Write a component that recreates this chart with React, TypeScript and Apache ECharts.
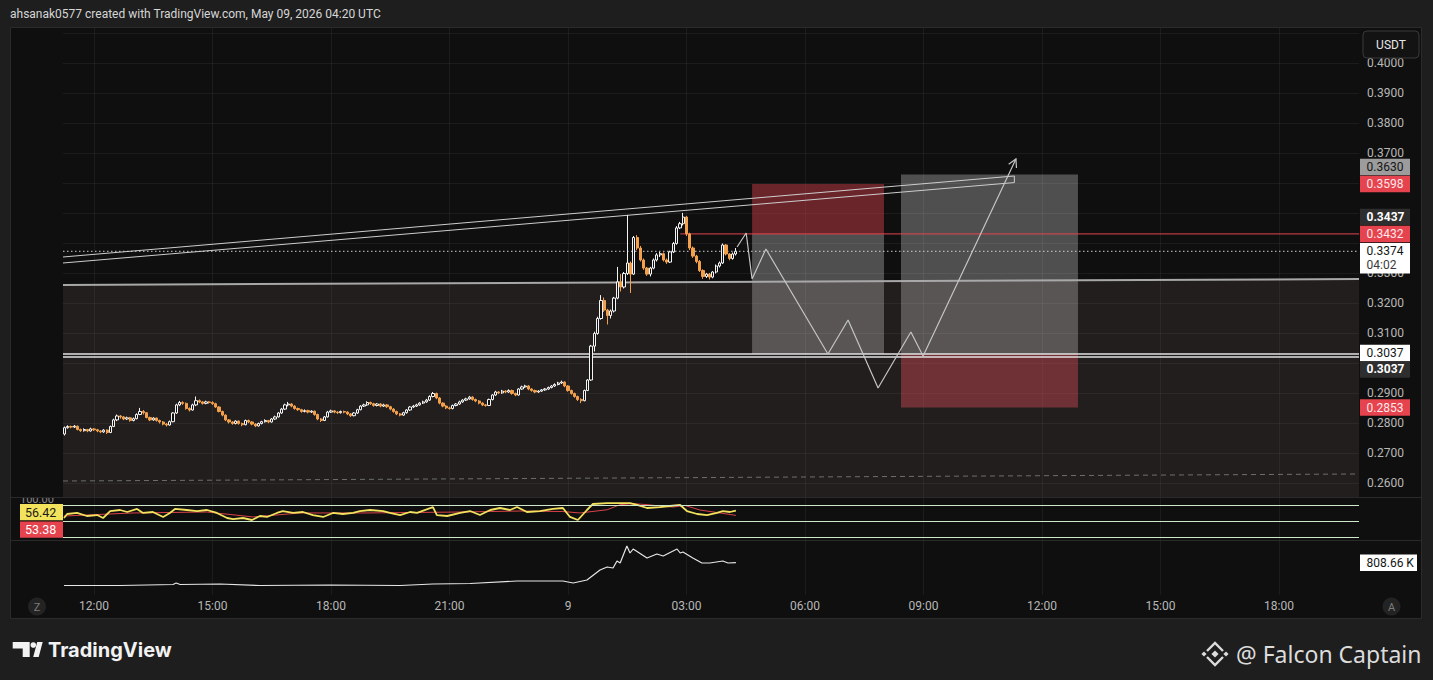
import React, { useEffect, useRef } from "react";
import * as echarts from "echarts";

// ---------- axes ----------
const X_MIN = 11.215; // hours since May 8 00:00 (UTC)
const X_MAX = 44.025;
const TIME_TICKS = [12, 15, 18, 21, 24, 27, 30, 33, 36, 39, 42];
// labels that are not hidden behind price tags
const PRICE_LABELS = [0.26, 0.27, 0.28, 0.29, 0.31, 0.32, 0.33, 0.37, 0.38, 0.39, 0.4];
const PRICE_GRID = [0.26, 0.27, 0.28, 0.29, 0.3, 0.31, 0.32, 0.33, 0.34, 0.35, 0.36, 0.37, 0.38, 0.39, 0.4, 0.41];
const PRICE_MIN = 0.2555;
const PRICE_MAX = 0.41183;
const RSI_MIN = 38;
const RSI_MAX = 64.25;
const RSI_BANDS = [60, 50, 40];
const OBV_MIN = 0;
const OBV_MAX = 1350;

// ---------- 5-minute candles: [open, close, low, high] in 1e-4 USDT ----------
const CANDLE_START = 11.25;
const CANDLE_STEP = 5 / 60;
const candles = [
  [2765, 2786, 2760, 2790], [2786, 2790, 2783, 2794], [2790, 2788, 2784, 2793], [2788, 2791, 2785, 2795], [2791, 2780, 2777, 2793],
  [2780, 2776, 2772, 2783], [2776, 2780, 2773, 2784], [2780, 2775, 2771, 2782], [2775, 2782, 2773, 2786], [2782, 2779, 2775, 2785],
  [2779, 2775, 2771, 2782], [2775, 2772, 2768, 2778], [2772, 2778, 2769, 2781], [2778, 2770, 2765, 2780], [2770, 2790, 2768, 2793],
  [2790, 2812, 2788, 2816], [2812, 2825, 2808, 2830], [2825, 2822, 2816, 2828], [2822, 2815, 2811, 2825], [2815, 2819, 2812, 2823],
  [2819, 2810, 2806, 2822], [2810, 2816, 2807, 2820], [2816, 2830, 2814, 2834], [2830, 2840, 2828, 2852], [2840, 2836, 2830, 2845],
  [2836, 2820, 2817, 2838], [2820, 2812, 2808, 2823], [2812, 2818, 2809, 2821], [2818, 2810, 2806, 2820], [2810, 2805, 2800, 2813],
  [2805, 2798, 2794, 2808], [2798, 2795, 2790, 2802], [2795, 2806, 2793, 2810], [2806, 2835, 2804, 2838], [2835, 2862, 2832, 2866],
  [2862, 2870, 2858, 2875], [2870, 2867, 2862, 2874], [2867, 2850, 2846, 2870], [2850, 2845, 2840, 2854], [2845, 2862, 2843, 2866],
  [2862, 2876, 2858, 2890], [2876, 2872, 2868, 2880], [2872, 2867, 2863, 2875], [2867, 2872, 2864, 2876], [2872, 2870, 2866, 2875],
  [2870, 2866, 2862, 2874], [2866, 2855, 2852, 2869], [2855, 2840, 2837, 2858], [2840, 2828, 2824, 2843], [2828, 2812, 2808, 2830],
  [2812, 2805, 2800, 2815], [2805, 2800, 2796, 2808], [2800, 2808, 2797, 2811], [2808, 2800, 2796, 2810], [2800, 2796, 2791, 2803],
  [2796, 2810, 2794, 2813], [2810, 2805, 2801, 2813], [2805, 2798, 2794, 2808], [2798, 2792, 2788, 2801], [2792, 2800, 2790, 2803],
  [2800, 2806, 2797, 2809], [2806, 2810, 2803, 2814], [2810, 2805, 2801, 2812], [2805, 2815, 2803, 2818], [2815, 2822, 2812, 2826],
  [2822, 2835, 2820, 2838], [2835, 2848, 2832, 2852], [2848, 2862, 2845, 2866], [2862, 2865, 2857, 2872], [2865, 2858, 2854, 2868],
  [2858, 2850, 2846, 2861], [2850, 2846, 2842, 2853], [2846, 2840, 2836, 2849], [2840, 2843, 2837, 2847], [2843, 2838, 2834, 2846],
  [2838, 2841, 2835, 2844], [2841, 2830, 2826, 2843], [2830, 2815, 2811, 2833], [2815, 2810, 2805, 2818], [2810, 2822, 2808, 2825],
  [2822, 2838, 2820, 2842], [2838, 2842, 2835, 2846], [2842, 2838, 2834, 2845], [2838, 2836, 2832, 2841], [2836, 2840, 2833, 2843],
  [2840, 2838, 2834, 2843], [2838, 2832, 2828, 2841], [2832, 2826, 2822, 2835], [2826, 2835, 2824, 2838], [2835, 2846, 2832, 2849],
  [2846, 2858, 2844, 2861], [2858, 2862, 2855, 2866], [2862, 2870, 2859, 2874], [2870, 2866, 2862, 2873], [2866, 2860, 2856, 2869],
  [2860, 2865, 2857, 2868], [2865, 2858, 2854, 2868], [2858, 2862, 2855, 2866], [2862, 2856, 2852, 2865], [2856, 2848, 2844, 2859],
  [2848, 2840, 2836, 2851], [2840, 2832, 2828, 2843], [2832, 2828, 2824, 2835], [2828, 2836, 2826, 2839], [2836, 2845, 2833, 2848],
  [2845, 2855, 2842, 2858], [2855, 2858, 2852, 2862], [2858, 2862, 2855, 2866], [2862, 2868, 2859, 2871], [2868, 2872, 2865, 2876],
  [2872, 2878, 2869, 2882], [2878, 2890, 2875, 2894], [2890, 2900, 2887, 2905], [2900, 2885, 2881, 2903], [2885, 2868, 2864, 2888],
  [2868, 2858, 2854, 2871], [2858, 2852, 2848, 2861], [2852, 2850, 2846, 2856], [2850, 2860, 2847, 2863], [2860, 2865, 2857, 2868],
  [2865, 2872, 2862, 2876], [2872, 2878, 2869, 2881], [2878, 2882, 2875, 2886], [2882, 2888, 2879, 2892], [2888, 2880, 2876, 2891],
  [2880, 2875, 2871, 2883], [2875, 2868, 2864, 2878], [2868, 2862, 2858, 2871], [2862, 2860, 2856, 2865], [2860, 2880, 2858, 2883],
  [2880, 2895, 2877, 2898], [2895, 2905, 2892, 2909], [2905, 2902, 2898, 2908], [2902, 2908, 2899, 2912], [2908, 2905, 2901, 2911],
  [2905, 2910, 2902, 2914], [2910, 2900, 2896, 2913], [2900, 2895, 2891, 2903], [2895, 2915, 2893, 2918], [2915, 2922, 2912, 2926],
  [2922, 2925, 2919, 2929], [2925, 2915, 2911, 2928], [2915, 2910, 2906, 2918], [2910, 2905, 2901, 2913], [2905, 2908, 2902, 2911],
  [2908, 2912, 2905, 2915], [2912, 2915, 2909, 2918], [2915, 2920, 2912, 2923], [2920, 2925, 2917, 2928], [2925, 2930, 2922, 2934],
  [2930, 2935, 2927, 2939], [2935, 2938, 2932, 2943], [2938, 2925, 2921, 2941], [2925, 2910, 2906, 2928], [2910, 2900, 2896, 2913],
  [2900, 2890, 2886, 2903], [2890, 2880, 2875, 2893], [2880, 2876, 2868, 2884], [2876, 2910, 2874, 2913], [2910, 2945, 2908, 2948],
  [2945, 3058, 2942, 3062], [3058, 3100, 3040, 3106], [3100, 3150, 3096, 3156], [3150, 3210, 3146, 3228], [3210, 3178, 3172, 3220],
  [3178, 3160, 3130, 3182], [3160, 3175, 3150, 3180], [3175, 3218, 3170, 3222], [3218, 3272, 3214, 3322], [3272, 3255, 3240, 3298],
  [3255, 3300, 3250, 3305], [3300, 3335, 3295, 3495], [3335, 3298, 3235, 3340], [3298, 3420, 3295, 3425], [3420, 3385, 3378, 3428],
  [3385, 3345, 3340, 3392], [3345, 3318, 3312, 3350], [3318, 3298, 3292, 3322], [3298, 3318, 3290, 3322], [3318, 3345, 3314, 3350],
  [3345, 3362, 3340, 3368], [3362, 3366, 3355, 3372], [3366, 3345, 3340, 3370], [3345, 3338, 3332, 3350], [3338, 3372, 3335, 3376],
  [3372, 3400, 3368, 3405], [3400, 3452, 3396, 3458], [3452, 3466, 3448, 3472], [3466, 3488, 3460, 3502], [3488, 3432, 3425, 3492],
  [3432, 3385, 3378, 3436], [3385, 3358, 3352, 3390], [3358, 3340, 3334, 3362], [3340, 3310, 3305, 3345], [3310, 3290, 3282, 3314],
  [3290, 3298, 3285, 3302], [3298, 3288, 3280, 3302], [3288, 3305, 3284, 3308], [3305, 3325, 3300, 3330], [3325, 3335, 3320, 3340],
  [3335, 3395, 3332, 3400], [3395, 3365, 3360, 3398], [3365, 3350, 3344, 3368], [3350, 3365, 3346, 3370], [3365, 3374, 3360, 3385],
];

// ---------- RSI pane ----------
const rsiTimes = [11.24, 11.32, 11.57, 11.82, 12.08, 12.23, 12.41, 12.66, 12.84, 13.09, 13.24, 13.49, 13.75, 13.92, 14.05, 14.35, 14.61, 14.86, 15.11, 15.37, 15.52, 15.77, 16.0, 16.2, 16.38, 16.63, 16.78, 17.04, 17.29, 17.54, 17.8, 18.05, 18.3, 18.56, 18.73, 18.99, 19.32, 19.49, 19.75, 20.0, 20.18, 20.58, 20.68, 20.94, 21.27, 21.52, 21.77, 22.03, 22.28, 22.53, 22.71, 22.96, 23.29, 23.62, 23.87, 24.05, 24.25, 24.48, 24.63, 24.99, 25.32, 25.57, 25.75, 26.0, 26.33, 26.58, 26.84, 27.01, 27.27, 27.52, 27.77, 27.92, 28.1, 28.25];
const rsiValues = [51.75, 54.25, 54.9, 53.0, 53.6, 51.75, 56.1, 56.75, 55.5, 57.4, 54.9, 55.5, 52.4, 54.9, 57.4, 56.75, 56.1, 56.75, 54.9, 51.75, 51.1, 51.75, 50.5, 53.0, 52.4, 54.9, 56.1, 54.9, 55.5, 53.6, 52.4, 54.9, 54.25, 54.9, 56.1, 56.75, 56.1, 54.9, 53.6, 55.5, 54.9, 58.6, 53.6, 53.0, 54.9, 56.1, 53.6, 56.75, 58.0, 56.75, 58.6, 55.5, 56.1, 57.4, 58.0, 52.4, 50.5, 56.75, 60.5, 61.1, 61.1, 61.1, 59.9, 58.0, 58.6, 59.25, 59.9, 56.1, 54.25, 53.6, 54.9, 56.1, 55.5, 56.42];
const rsiMaTimes = [11.24, 12.99, 14.86, 16.03, 17.22, 18.91, 21.27, 22.78, 23.87, 24.3, 24.99, 25.32, 25.65, 26.0, 26.33, 26.66, 26.96, 27.34, 27.85, 28.25];
const rsiMaValues = [53.0, 54.9, 55.5, 52.4, 54.9, 54.9, 55.5, 56.1, 55.8, 54.9, 56.9, 60.1, 60.7, 60.1, 59.25, 58.6, 59.6, 56.75, 54.9, 53.38];

// ---------- lower pane line (K) ----------
const obvTimes = [11.24, 12.66, 14.0, 14.08, 14.18, 15.19, 16.2, 17.97, 19.75, 20.58, 21.52, 22.71, 23.87, 24.13, 24.48, 24.81, 24.99, 25.14, 25.24, 25.32, 25.49, 25.57, 25.65, 26.0, 26.25, 26.41, 26.76, 26.84, 26.91, 27.16, 27.39, 27.59, 27.92, 28.05, 28.25];
const obvValues = [237, 237, 262, 300, 262, 275, 237, 250, 237, 275, 287, 350, 350, 300, 375, 625, 700, 675, 850, 800, 1225, 1050, 1150, 925, 1025, 975, 1150, 1050, 1075, 925, 800, 800, 850, 800, 808.66];

// ---------- drawings (time h, price) ----------
const CHANNEL_TOP = [[X_MIN, 0.32617], [X_MAX, 0.32817]];
const CHANNEL_MID = [[X_MIN, 0.26083], [X_MAX, 0.26317]];
const RISING_BAND = [[X_MIN, 0.3355], [35.3, 0.3625], [35.3, 0.3603], [X_MIN, 0.3335]];
const SUPPORT_LEVELS = [0.30317, 0.30217];
const ENTRY_START = 26.84;
const ENTRY_LEVEL = 0.3432;
const LAST_PRICE = 0.3374;
const SHORT_BOX = { x0: 28.66, x1: 32.0, stop: 0.3598, entry: 0.3432, target: 0.3032 };
const LONG_BOX = { x0: 32.43, x1: 36.91, target: 0.363, entry: 0.3032, stop: 0.2853 };
const PATH_X = [28.28, 28.51, 28.66, 29.01, 30.58, 31.09, 31.85, 32.68, 32.99, 35.34];
const PATH_Y = [0.33883, 0.3435, 0.32817, 0.33817, 0.30317, 0.3145, 0.29183, 0.3105, 0.3025, 0.36817];

// ---------- tags ----------
const RED = "#e5434e";
const PRICE_TAGS = [
  { value: 0.363, text: "0.3630", shift: -7.5, bg: "#9c9c9c", fg: "#151515", bold: false },
  { value: 0.3598, text: "0.3598", shift: 0, bg: RED, fg: "#ffe8ea", bold: false },
  { value: 0.3437, text: "0.3437", shift: -15.5, bg: "#2e2e2e", fg: "#ffffff", bold: true },
  { value: 0.3432, text: "0.3432", shift: 0, bg: RED, fg: "#ffe8ea", bold: false },
  { value: 0.3037, text: "0.3037", shift: 0.5, bg: "#ffffff", fg: "#151515", bold: false },
  { value: 0.3037, text: "0.3037", shift: 17, bg: "#2e2e2e", fg: "#ffffff", bold: true },
  { value: 0.2853, text: "0.2853", shift: 0, bg: RED, fg: "#ffe8ea", bold: false },
];
const LAST_TAG = { value: LAST_PRICE, text: "0.3374", countdown: "04:02" };
const RSI_TAGS = [
  { value: 56.42, text: "56.42", shift: 1.5, bg: "#f3e35c", fg: "#1a1a1a" },
  { value: 53.38, text: "53.38", shift: 14.3, bg: RED, fg: "#ffffff" },
];
const OBV_TAG = { value: 808.66, text: "808.66 K" };
const HEADER = "ahsanak0577 created with TradingView.com, May 09, 2026 04:20 UTC";

const FONT = "Roboto";
const GRID_LINE = "rgba(255,255,255,0.055)";
const AXIS_TEXT = "#b8b8b8";

function hourLabel(v: number) {
  const r = Math.round(v);
  if (r === 24) return "9";
  const hh = r % 24;
  return (hh < 10 ? "0" : "") + hh + ":00";
}

function seg(name: string, data: number[][], lineStyle: any, z = 3, extra: any = {}) {
  return {
    type: "line",
    name,
    xAxisIndex: 0,
    yAxisIndex: 0,
    data,
    symbol: "none",
    silent: true,
    z,
    lineStyle,
    ...extra,
  };
}

function buildOption() {
  const candleData = candles.map((r, i) => [
    CANDLE_START + i * CANDLE_STEP,
    r[0] / 1e4,
    r[1] / 1e4,
    r[2] / 1e4,
    r[3] / 1e4,
  ]);
  const gray = "rgba(255,255,255,0.27)";
  const red = "rgba(242,70,85,0.4)";
  const boxes = [
    [{ coord: [SHORT_BOX.x0, SHORT_BOX.stop], itemStyle: { color: red } }, { coord: [SHORT_BOX.x1, SHORT_BOX.entry] }],
    [{ coord: [SHORT_BOX.x0, SHORT_BOX.entry], itemStyle: { color: gray } }, { coord: [SHORT_BOX.x1, SHORT_BOX.target] }],
    [{ coord: [LONG_BOX.x0, LONG_BOX.target], itemStyle: { color: gray } }, { coord: [LONG_BOX.x1, LONG_BOX.entry] }],
    [{ coord: [LONG_BOX.x0, LONG_BOX.entry], itemStyle: { color: red } }, { coord: [LONG_BOX.x1, LONG_BOX.stop] }],
  ];

  const xAxis = [0, 1, 2].map((i) => ({
    type: "value",
    gridIndex: i,
    min: X_MIN,
    max: X_MAX,
    axisLine: { show: false },
    axisTick: { show: false, customValues: TIME_TICKS },
    splitLine: { show: true, lineStyle: { color: GRID_LINE, width: 1 } },
    axisLabel:
      i === 2
        ? { show: true, customValues: TIME_TICKS, formatter: hourLabel, color: AXIS_TEXT, fontSize: 12, fontFamily: FONT, margin: 5 }
        : { show: false },
  }));

  return {
    animation: false,
    backgroundColor: "#1e1e1e",
    textStyle: { fontFamily: FONT },
    grid: [
      { left: 63, top: 28, width: 1296, height: 469 },
      { left: 63, top: 498, width: 1296, height: 42 },
      { left: 63, top: 541, width: 1296, height: 54 },
    ],
    xAxis,
    yAxis: [
      {
        type: "value",
        gridIndex: 0,
        position: "right",
        min: PRICE_MIN,
        max: PRICE_MAX,
        axisLine: { show: false },
        axisTick: { show: false, customValues: PRICE_GRID },
        splitLine: { show: true, lineStyle: { color: GRID_LINE, width: 1 } },
        axisLabel: {
          customValues: PRICE_LABELS,
          formatter: (v: number) => v.toFixed(4),
          color: AXIS_TEXT,
          fontSize: 12,
          fontFamily: FONT,
          margin: 8,
        },
      },
      { type: "value", gridIndex: 1, min: RSI_MIN, max: RSI_MAX, show: false },
      { type: "value", gridIndex: 2, min: OBV_MIN, max: OBV_MAX, show: false },
    ],
    series: [
      seg("channelTop", CHANNEL_TOP, { color: "#a8a8a8", width: 2 }, 1, {
        areaStyle: { color: "rgba(150,125,125,0.21)", origin: "start" },
        markArea: { silent: true, data: boxes },
      }),
      seg("channelMid", CHANNEL_MID, { color: "#6e6e6e", width: 1, type: [5, 4] }, 2),
      seg("support1", [[X_MIN, SUPPORT_LEVELS[0]], [X_MAX, SUPPORT_LEVELS[0]]], { color: "#e2e2e2", width: 1.3 }, 3),
      seg("support2", [[X_MIN, SUPPORT_LEVELS[1]], [X_MAX, SUPPORT_LEVELS[1]]], { color: "#e2e2e2", width: 1.3 }, 3),
      seg("risingBand", RISING_BAND, { color: "#cdcdcd", width: 1 }, 3),
      seg("entry", [[ENTRY_START, ENTRY_LEVEL], [X_MAX, ENTRY_LEVEL]], { color: RED, width: 1 }, 3),
      seg("lastPrice", [[X_MIN, LAST_PRICE], [X_MAX, LAST_PRICE]], { color: "#d0d0d0", width: 1, type: [1.5, 2.5] }, 3),
      {
        type: "candlestick",
        xAxisIndex: 0,
        yAxisIndex: 0,
        data: candleData,
        encode: { x: 0, y: [1, 2, 3, 4] },
        barWidth: 2.7,
        silent: true,
        z: 5,
        itemStyle: {
          color: "#121212",
          color0: "#f2a04c",
          borderColor: "#f4f4f4",
          borderColor0: "#f2a04c",
          borderWidth: 1,
        },
      },
      seg("projection", PATH_X.map((x, i) => [x, PATH_Y[i]]), { color: "#c4c4c4", width: 1.2 }, 6),
      {
        type: "line",
        xAxisIndex: 1,
        yAxisIndex: 1,
        data: rsiTimes.map((t, i) => [t, rsiValues[i]]),
        symbol: "none",
        silent: true,
        z: 4,
        lineStyle: { color: "#f3e25e", width: 1.8 },
      },
      {
        type: "line",
        xAxisIndex: 1,
        yAxisIndex: 1,
        data: rsiMaTimes.map((t, i) => [t, rsiMaValues[i]]),
        symbol: "none",
        silent: true,
        z: 3,
        lineStyle: { color: "#d9434a", width: 1 },
        markLine: {
          silent: true,
          symbol: "none",
          label: { show: false },
          lineStyle: { color: "#cfe8cb", width: 1, type: "solid" },
          data: RSI_BANDS.map((v) => ({ yAxis: v })),
        },
      },
      {
        type: "line",
        xAxisIndex: 2,
        yAxisIndex: 2,
        data: obvTimes.map((t, i) => [t, obvValues[i]]),
        symbol: "none",
        silent: true,
        z: 3,
        lineStyle: { color: "#e6e6e6", width: 1.2 },
      },
    ],
  };
}

function tagRect(x: number, cy: number, w: number, h: number, bg: string) {
  return { type: "rect", z: 100, silent: true, shape: { x, y: cy - h / 2, width: w, height: h }, style: { fill: bg } };
}
function tagText(x: number, cy: number, text: string, fg: string, bold = false, size = 12) {
  return {
    type: "text",
    z: 101,
    silent: true,
    x,
    y: cy,
    style: { text, fill: fg, fontSize: size, fontFamily: FONT, fontWeight: bold ? "bold" : "normal", verticalAlign: "middle", align: "left" },
  };
}

function buildGraphics(chart: any) {
  const P = (g: number, x: number, y: number) => chart.convertToPixel({ gridIndex: g }, [x, y]) as number[];
  const els: any[] = [];

  // frame
  els.push({ type: "rect", z: -100, silent: true, shape: { x: 10.5, y: 27.5, width: 1411, height: 591 }, style: { fill: "#0f0f0f", stroke: "#2b2b2b", lineWidth: 1 } });

  // header
  els.push({ type: "text", z: 100, silent: true, x: 10, y: 14, style: { text: HEADER, fill: "#d6d6d6", fontSize: 12, fontFamily: FONT, verticalAlign: "middle" } });

  // RSI scale top text (clipped by pane border)
  els.push({ type: "text", z: 90, silent: true, x: 20, y: 499, style: { text: "100.00", fill: "#8c8c8c", fontSize: 11, fontFamily: FONT, verticalAlign: "middle" } });
  els.push({ type: "rect", z: 95, silent: true, shape: { x: 11, y: 480, width: 51, height: 17.5 }, style: { fill: "#0f0f0f" } });

  // pane separators
  [497.5, 540.5].forEach((y) =>
    els.push({ type: "line", z: 96, silent: true, shape: { x1: 11, y1: y, x2: 1421, y2: y }, style: { stroke: "#2a2a2a", lineWidth: 1 } })
  );

  // projection arrow head
  const n = PATH_X.length;
  const tip = P(0, PATH_X[n - 1], PATH_Y[n - 1]);
  const prev = P(0, PATH_X[n - 2], PATH_Y[n - 2]);
  const a = Math.atan2(tip[1] - prev[1], tip[0] - prev[0]);
  const L = 9;
  const th = 0.5;
  const arm = (s: number) => [tip[0] - L * Math.cos(a + s * th), tip[1] - L * Math.sin(a + s * th)];
  els.push({ type: "polyline", z: 50, silent: true, shape: { points: [arm(1), tip, arm(-1)] }, style: { stroke: "#c4c4c4", lineWidth: 1.2, fill: null } });

  // price tags (right scale)
  PRICE_TAGS.forEach((t) => {
    const cy = P(0, X_MAX, t.value)[1] + t.shift;
    els.push(tagRect(1360, cy, 50, 16.5, t.bg));
    els.push(tagText(1366.5, cy, t.text, t.fg, t.bold));
  });
  {
    const cy = P(0, X_MAX, LAST_TAG.value)[1];
    els.push({ type: "rect", z: 100, silent: true, shape: { x: 1360, y: cy - 8.3, width: 50, height: 30.5 }, style: { fill: "#ffffff" } });
    els.push(tagText(1366.5, cy, LAST_TAG.text, "#151515"));
    els.push(tagText(1366.5, cy + 14, LAST_TAG.countdown, "#3a3a3a"));
  }
  // lower pane tag
  {
    const cy = P(2, X_MAX, OBV_TAG.value)[1];
    els.push(tagRect(1360, cy, 57, 16.5, "#ffffff"));
    els.push(tagText(1366.5, cy, OBV_TAG.text, "#151515"));
  }
  // RSI tags (left scale)
  RSI_TAGS.forEach((t) => {
    const cy = P(1, X_MIN, t.value)[1] + t.shift;
    els.push(tagRect(20, cy, 43, 16.3, t.bg));
    els.push(tagText(25, cy, t.text, t.fg, false, 12.5));
  });

  // USDT button
  els.push({ type: "rect", z: 100, silent: true, shape: { x: 1363, y: 31, width: 56, height: 27, r: 4 }, style: { fill: "#131313", stroke: "#3a3a3a", lineWidth: 1 } });
  els.push({ type: "text", z: 101, silent: true, x: 1391, y: 44.5, style: { text: "USDT", fill: "#e6e6e6", fontSize: 12, fontFamily: FONT, align: "center", verticalAlign: "middle" } });

  // Z / A buttons
  [[37, "Z"], [1391.5, "A"]].forEach(([x, s]) => {
    els.push({ type: "circle", z: 100, silent: true, shape: { cx: x as number, cy: 606.5, r: 9 }, style: { fill: "#232323" } });
    els.push({ type: "text", z: 101, silent: true, x: x as number, y: 607, style: { text: s as string, fill: "#7c7c7c", fontSize: 11, fontFamily: FONT, align: "center", verticalAlign: "middle" } });
  });

  // footer: TradingView logo
  els.push({ type: "tvLogo", z: 100, silent: true, x: 12.7, y: 642, scaleX: 1, scaleY: 1, style: { fill: "#f2f2f2" } });
  els.push({ type: "circle", z: 100, silent: true, shape: { cx: 33.3, cy: 645, r: 2.8 }, style: { fill: "#f2f2f2" } });
  els.push({ type: "text", z: 100, silent: true, x: 48, y: 650, style: { text: "TradingView", fill: "#f2f2f2", fontSize: 20, fontWeight: "bold", fontFamily: "Inter", verticalAlign: "middle" } });

  // footer: Falcon Captain
  const lc = "#dcdcdc";
  const cx = 1215;
  const cyL = 654;
  els.push({ type: "polyline", z: 100, silent: true, shape: { points: [[cx - 8, cyL - 3], [cx, cyL - 11], [cx + 8, cyL - 3]] }, style: { stroke: lc, lineWidth: 2.4, fill: null } });
  els.push({ type: "polyline", z: 100, silent: true, shape: { points: [[cx - 8, cyL + 3], [cx, cyL + 11], [cx + 8, cyL + 3]] }, style: { stroke: lc, lineWidth: 2.4, fill: null } });
  [[cx, 3.6], [cx - 11, 2.6], [cx + 11, 2.6]].forEach(([x, r]) =>
    els.push({ type: "polygon", z: 100, silent: true, shape: { points: [[x, cyL - r], [x + r, cyL], [x, cyL + r], [x - r, cyL]] }, style: { fill: lc } })
  );
  els.push({ type: "text", z: 100, silent: true, x: 1236, y: 654, style: { text: "@ Falcon Captain", fill: lc, fontSize: 23, fontFamily: "Noto Sans", verticalAlign: "middle" } });

  return els;
}

let registered = false;
function registerShapes() {
  if (registered) return;
  registered = true;
  const d = "M0 0 H17 V15 H10 V6.5 H0 Z M20.5 15 L26 15 L30 0 L24.5 0 Z";
  echarts.graphic.registerShape("tvLogo", (echarts.graphic as any).extendPath(d, {}));
}

export default function App() {
  const ref = useRef<HTMLDivElement>(null);
  useEffect(() => {
    document.body.style.margin = "0";
    document.body.style.background = "#1e1e1e";
    registerShapes();
    const chart = echarts.init(ref.current as HTMLDivElement, null, { renderer: "svg", width: 1433, height: 680 });
    chart.setOption(buildOption() as any);
    chart.setOption({ graphic: { elements: buildGraphics(chart) } } as any);
    return () => chart.dispose();
  }, []);
  return <div ref={ref} style={{ width: 1433, height: 680, background: "#1e1e1e" }} />;
}
